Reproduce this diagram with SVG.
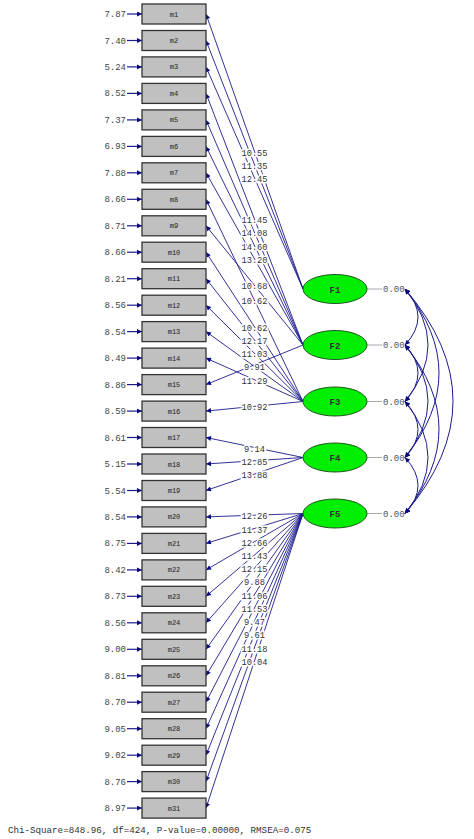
<svg xmlns="http://www.w3.org/2000/svg" width="474" height="839" viewBox="0 0 474 839">
<style>
.bg{fill:#ffffff}
.box rect{fill:#c0c0c0;stroke:#333333;stroke-width:1.3}
.box text{font-family:"Liberation Mono",monospace;font-size:7px;fill:#222;text-anchor:middle}
.fac ellipse{fill:#00ee00;stroke:#225522;stroke-width:1}
.fac text{font-family:"Liberation Mono",monospace;font-size:9px;font-weight:bold;fill:#333;text-anchor:middle}
.err{font-family:"Liberation Mono",monospace;font-size:9px;fill:#444;text-anchor:end}
.ld{stroke:#1c1c8c;stroke-width:0.9;fill:none;marker-end:url(#ah)}
.ea{stroke:#1c1c8c;stroke-width:1.2;fill:none;marker-end:url(#ah)}
.lb{font-family:"Liberation Mono",monospace;font-size:8.7px;fill:#333;text-anchor:middle;stroke:#ffffff;stroke-width:3;paint-order:stroke}
.zl{stroke:#aaaaaa;stroke-width:1}
.zt{font-family:"Liberation Mono",monospace;font-size:9px;fill:#555}
.cv{stroke:#1c1c8c;stroke-width:1;fill:none;marker-start:url(#ah2);marker-end:url(#ah2)}
.ft{font-family:"Liberation Mono",monospace;font-size:9.2px;fill:#333}
</style>
<defs>
<marker id="ah" viewBox="0 0 10 10" refX="10" refY="5" markerUnits="userSpaceOnUse" markerWidth="7" markerHeight="5" orient="auto"><path d="M0,0 L10,5 L0,10 z" fill="#0a0a80"/></marker>
<marker id="ah2" viewBox="0 0 10 10" refX="10" refY="5" markerUnits="userSpaceOnUse" markerWidth="7" markerHeight="5" orient="auto-start-reverse"><path d="M0,0 L10,5 L0,10 z" fill="#0a0a80"/></marker>
</defs>
<rect class="bg" x="0" y="0" width="474" height="839"/>

<g id="connectors">
<!-- error arrows -->
<line class="ea" x1="127" y1="14" x2="142" y2="14"/>
<line class="ea" x1="127" y1="40.5" x2="142" y2="40.5"/>
<line class="ea" x1="127" y1="66.9" x2="142" y2="66.9"/>
<line class="ea" x1="127" y1="93.4" x2="142" y2="93.4"/>
<line class="ea" x1="127" y1="119.9" x2="142" y2="119.9"/>
<line class="ea" x1="127" y1="146.4" x2="142" y2="146.4"/>
<line class="ea" x1="127" y1="172.8" x2="142" y2="172.8"/>
<line class="ea" x1="127" y1="199.3" x2="142" y2="199.3"/>
<line class="ea" x1="127" y1="225.8" x2="142" y2="225.8"/>
<line class="ea" x1="127" y1="252.2" x2="142" y2="252.2"/>
<line class="ea" x1="127" y1="278.7" x2="142" y2="278.7"/>
<line class="ea" x1="127" y1="305.2" x2="142" y2="305.2"/>
<line class="ea" x1="127" y1="331.6" x2="142" y2="331.6"/>
<line class="ea" x1="127" y1="358.1" x2="142" y2="358.1"/>
<line class="ea" x1="127" y1="384.6" x2="142" y2="384.6"/>
<line class="ea" x1="127" y1="411.1" x2="142" y2="411.1"/>
<line class="ea" x1="127" y1="437.5" x2="142" y2="437.5"/>
<line class="ea" x1="127" y1="464" x2="142" y2="464"/>
<line class="ea" x1="127" y1="490.5" x2="142" y2="490.5"/>
<line class="ea" x1="127" y1="516.9" x2="142" y2="516.9"/>
<line class="ea" x1="127" y1="543.4" x2="142" y2="543.4"/>
<line class="ea" x1="127" y1="569.9" x2="142" y2="569.9"/>
<line class="ea" x1="127" y1="596.3" x2="142" y2="596.3"/>
<line class="ea" x1="127" y1="622.8" x2="142" y2="622.8"/>
<line class="ea" x1="127" y1="649.3" x2="142" y2="649.3"/>
<line class="ea" x1="127" y1="675.8" x2="142" y2="675.8"/>
<line class="ea" x1="127" y1="702.2" x2="142" y2="702.2"/>
<line class="ea" x1="127" y1="728.7" x2="142" y2="728.7"/>
<line class="ea" x1="127" y1="755.2" x2="142" y2="755.2"/>
<line class="ea" x1="127" y1="781.6" x2="142" y2="781.6"/>
<line class="ea" x1="127" y1="808.1" x2="142" y2="808.1"/>

<!-- loadings F1 -->
<line class="ld" x1="303" y1="289" x2="206" y2="14"/>
<line class="ld" x1="303" y1="289" x2="206" y2="40.5"/>
<line class="ld" x1="303" y1="289" x2="206" y2="66.9"/>
<!-- F2 -->
<line class="ld" x1="303" y1="345" x2="206" y2="93.4"/>
<line class="ld" x1="303" y1="345" x2="206" y2="119.9"/>
<line class="ld" x1="303" y1="345" x2="206" y2="146.4"/>
<line class="ld" x1="303" y1="345" x2="206" y2="172.8"/>
<line class="ld" x1="303" y1="345" x2="206" y2="225.8"/>
<line class="ld" x1="303" y1="345" x2="206" y2="384.6"/>
<!-- F3 -->
<line class="ld" x1="303" y1="401.5" x2="206" y2="199.3"/>
<line class="ld" x1="303" y1="401.5" x2="206" y2="252.2"/>
<line class="ld" x1="303" y1="401.5" x2="206" y2="278.7"/>
<line class="ld" x1="303" y1="401.5" x2="206" y2="305.2"/>
<line class="ld" x1="303" y1="401.5" x2="206" y2="331.6"/>
<line class="ld" x1="303" y1="401.5" x2="206" y2="358.1"/>
<line class="ld" x1="303" y1="401.5" x2="206" y2="411.1"/>
<!-- F4 -->
<line class="ld" x1="303" y1="457.5" x2="206" y2="437.5"/>
<line class="ld" x1="303" y1="457.5" x2="206" y2="464"/>
<line class="ld" x1="303" y1="457.5" x2="206" y2="490.5"/>
<!-- F5 -->
<line class="ld" x1="303" y1="513.5" x2="206" y2="516.9"/>
<line class="ld" x1="303" y1="513.5" x2="206" y2="543.4"/>
<line class="ld" x1="303" y1="513.5" x2="206" y2="569.9"/>
<line class="ld" x1="303" y1="513.5" x2="206" y2="596.3"/>
<line class="ld" x1="303" y1="513.5" x2="206" y2="622.8"/>
<line class="ld" x1="303" y1="513.5" x2="206" y2="649.3"/>
<line class="ld" x1="303" y1="513.5" x2="206" y2="675.8"/>
<line class="ld" x1="303" y1="513.5" x2="206" y2="702.2"/>
<line class="ld" x1="303" y1="513.5" x2="206" y2="728.7"/>
<line class="ld" x1="303" y1="513.5" x2="206" y2="755.2"/>
<line class="ld" x1="303" y1="513.5" x2="206" y2="781.6"/>
<line class="ld" x1="303" y1="513.5" x2="206" y2="808.1"/>

<!-- loading labels -->
<text class="lb" x="254.5" y="155.5">10.55</text>
<text class="lb" x="254.5" y="168.7">11.35</text>
<text class="lb" x="254.5" y="182">12.45</text>
<text class="lb" x="254.5" y="223.2">11.45</text>
<text class="lb" x="254.5" y="236.4">14.08</text>
<text class="lb" x="254.5" y="249.7">14.60</text>
<text class="lb" x="254.5" y="262.9">13.20</text>
<text class="lb" x="254.5" y="289.4">10.68</text>
<text class="lb" x="254.5" y="304.4">10.62</text>
<text class="lb" x="254.5" y="330.9">10.62</text>
<text class="lb" x="254.5" y="344.1">12.17</text>
<text class="lb" x="254.5" y="357.3">11.03</text>
<text class="lb" x="254.5" y="369.6">9.91</text>
<text class="lb" x="254.5" y="383.8">11.29</text>
<text class="lb" x="254.5" y="410.3">10.92</text>
<text class="lb" x="254.5" y="451.5">9.14</text>
<text class="lb" x="254.5" y="464.7">12.85</text>
<text class="lb" x="254.5" y="478">13.88</text>
<text class="lb" x="254.5" y="519.2">12.26</text>
<text class="lb" x="254.5" y="532.5">11.37</text>
<text class="lb" x="254.5" y="545.7">12.66</text>
<text class="lb" x="254.5" y="558.9">11.43</text>
<text class="lb" x="254.5" y="572.2">12.15</text>
<text class="lb" x="254.5" y="585.4">9.88</text>
<text class="lb" x="254.5" y="598.6">11.06</text>
<text class="lb" x="254.5" y="611.9">11.53</text>
<text class="lb" x="254.5" y="625.1">9.47</text>
<text class="lb" x="254.5" y="638.3">9.61</text>
<text class="lb" x="254.5" y="651.6">11.18</text>
<text class="lb" x="254.5" y="664.8">10.04</text>

<!-- factor variance stubs -->
<line class="zl" x1="367" y1="289" x2="382" y2="289"/>
<line class="zl" x1="367" y1="345" x2="382" y2="345"/>
<line class="zl" x1="367" y1="401.5" x2="382" y2="401.5"/>
<line class="zl" x1="367" y1="457.5" x2="382" y2="457.5"/>
<line class="zl" x1="367" y1="513.5" x2="382" y2="513.5"/>
<text class="zt" x="383" y="292">0.00</text>
<text class="zt" x="383" y="348">0.00</text>
<text class="zt" x="383" y="404.5">0.00</text>
<text class="zt" x="383" y="460.5">0.00</text>
<text class="zt" x="383" y="516.5">0.00</text>

<!-- covariances -->
<path class="cv" d="M405,289 Q431,317 405,345"/>
<path class="cv" d="M405,345 Q431,373 405,401.5"/>
<path class="cv" d="M405,401.5 Q431,429.5 405,457.5"/>
<path class="cv" d="M405,457.5 Q431,485.5 405,513.5"/>
<path class="cv" d="M405,289 Q451,345 405,401.5"/>
<path class="cv" d="M405,345 Q451,401 405,457.5"/>
<path class="cv" d="M405,401.5 Q451,457.5 405,513.5"/>
<path class="cv" d="M405,289 Q473,373 405,457.5"/>
<path class="cv" d="M405,345 Q473,429 405,513.5"/>
<path class="cv" d="M405,289 Q501,401 405,513.5"/>
</g>

<g id="errors">
<text class="err" x="126" y="17">7.87</text>
<text class="err" x="126" y="43.5">7.40</text>
<text class="err" x="126" y="69.9">5.24</text>
<text class="err" x="126" y="96.4">8.52</text>
<text class="err" x="126" y="122.9">7.37</text>
<text class="err" x="126" y="149.4">6.93</text>
<text class="err" x="126" y="175.8">7.88</text>
<text class="err" x="126" y="202.3">8.66</text>
<text class="err" x="126" y="228.8">8.71</text>
<text class="err" x="126" y="255.2">8.66</text>
<text class="err" x="126" y="281.7">8.21</text>
<text class="err" x="126" y="308.2">8.56</text>
<text class="err" x="126" y="334.6">8.54</text>
<text class="err" x="126" y="361.1">8.49</text>
<text class="err" x="126" y="387.6">8.86</text>
<text class="err" x="126" y="414.1">8.59</text>
<text class="err" x="126" y="440.5">8.61</text>
<text class="err" x="126" y="467">5.15</text>
<text class="err" x="126" y="493.5">5.54</text>
<text class="err" x="126" y="519.9">8.54</text>
<text class="err" x="126" y="546.4">8.75</text>
<text class="err" x="126" y="572.9">8.42</text>
<text class="err" x="126" y="599.3">8.73</text>
<text class="err" x="126" y="625.8">8.56</text>
<text class="err" x="126" y="652.3">9.00</text>
<text class="err" x="126" y="678.8">8.81</text>
<text class="err" x="126" y="705.2">8.70</text>
<text class="err" x="126" y="731.7">9.05</text>
<text class="err" x="126" y="758.2">9.02</text>
<text class="err" x="126" y="784.6">8.76</text>
<text class="err" x="126" y="811.1">8.97</text>
</g>

<g id="m1" class="box"><rect x="142" y="4" width="64" height="20"/><text x="174" y="16.5">m1</text></g>
<g id="m2" class="box"><rect x="142" y="30.5" width="64" height="20"/><text x="174" y="43">m2</text></g>
<g id="m3" class="box"><rect x="142" y="56.9" width="64" height="20"/><text x="174" y="69.4">m3</text></g>
<g id="m4" class="box"><rect x="142" y="83.4" width="64" height="20"/><text x="174" y="95.9">m4</text></g>
<g id="m5" class="box"><rect x="142" y="109.9" width="64" height="20"/><text x="174" y="122.4">m5</text></g>
<g id="m6" class="box"><rect x="142" y="136.4" width="64" height="20"/><text x="174" y="148.9">m6</text></g>
<g id="m7" class="box"><rect x="142" y="162.8" width="64" height="20"/><text x="174" y="175.3">m7</text></g>
<g id="m8" class="box"><rect x="142" y="189.3" width="64" height="20"/><text x="174" y="201.8">m8</text></g>
<g id="m9" class="box"><rect x="142" y="215.8" width="64" height="20"/><text x="174" y="228.3">m9</text></g>
<g id="m10" class="box"><rect x="142" y="242.2" width="64" height="20"/><text x="174" y="254.7">m10</text></g>
<g id="m11" class="box"><rect x="142" y="268.7" width="64" height="20"/><text x="174" y="281.2">m11</text></g>
<g id="m12" class="box"><rect x="142" y="295.2" width="64" height="20"/><text x="174" y="307.7">m12</text></g>
<g id="m13" class="box"><rect x="142" y="321.6" width="64" height="20"/><text x="174" y="334.1">m13</text></g>
<g id="m14" class="box"><rect x="142" y="348.1" width="64" height="20"/><text x="174" y="360.6">m14</text></g>
<g id="m15" class="box"><rect x="142" y="374.6" width="64" height="20"/><text x="174" y="387.1">m15</text></g>
<g id="m16" class="box"><rect x="142" y="401.1" width="64" height="20"/><text x="174" y="413.6">m16</text></g>
<g id="m17" class="box"><rect x="142" y="427.5" width="64" height="20"/><text x="174" y="440">m17</text></g>
<g id="m18" class="box"><rect x="142" y="454" width="64" height="20"/><text x="174" y="466.5">m18</text></g>
<g id="m19" class="box"><rect x="142" y="480.5" width="64" height="20"/><text x="174" y="493">m19</text></g>
<g id="m20" class="box"><rect x="142" y="506.9" width="64" height="20"/><text x="174" y="519.4">m20</text></g>
<g id="m21" class="box"><rect x="142" y="533.4" width="64" height="20"/><text x="174" y="545.9">m21</text></g>
<g id="m22" class="box"><rect x="142" y="559.9" width="64" height="20"/><text x="174" y="572.4">m22</text></g>
<g id="m23" class="box"><rect x="142" y="586.3" width="64" height="20"/><text x="174" y="598.8">m23</text></g>
<g id="m24" class="box"><rect x="142" y="612.8" width="64" height="20"/><text x="174" y="625.3">m24</text></g>
<g id="m25" class="box"><rect x="142" y="639.3" width="64" height="20"/><text x="174" y="651.8">m25</text></g>
<g id="m26" class="box"><rect x="142" y="665.8" width="64" height="20"/><text x="174" y="678.3">m26</text></g>
<g id="m27" class="box"><rect x="142" y="692.2" width="64" height="20"/><text x="174" y="704.7">m27</text></g>
<g id="m28" class="box"><rect x="142" y="718.7" width="64" height="20"/><text x="174" y="731.2">m28</text></g>
<g id="m29" class="box"><rect x="142" y="745.2" width="64" height="20"/><text x="174" y="757.7">m29</text></g>
<g id="m30" class="box"><rect x="142" y="771.6" width="64" height="20"/><text x="174" y="784.1">m30</text></g>
<g id="m31" class="box"><rect x="142" y="798.1" width="64" height="20"/><text x="174" y="810.6">m31</text></g>

<g id="F1" class="fac"><ellipse cx="335" cy="289" rx="32" ry="14.5"/><text x="335" y="292.5">F1</text></g>
<g id="F2" class="fac"><ellipse cx="335" cy="345" rx="32" ry="14.5"/><text x="335" y="348.5">F2</text></g>
<g id="F3" class="fac"><ellipse cx="335" cy="401.5" rx="32" ry="14.5"/><text x="335" y="405">F3</text></g>
<g id="F4" class="fac"><ellipse cx="335" cy="457.5" rx="32" ry="14.5"/><text x="335" y="461">F4</text></g>
<g id="F5" class="fac"><ellipse cx="335" cy="513.5" rx="32" ry="14.5"/><text x="335" y="517">F5</text></g>

<text class="ft" x="8" y="833">Chi-Square=848.96, df=424, P-value=0.00000, RMSEA=0.075</text>
</svg>
